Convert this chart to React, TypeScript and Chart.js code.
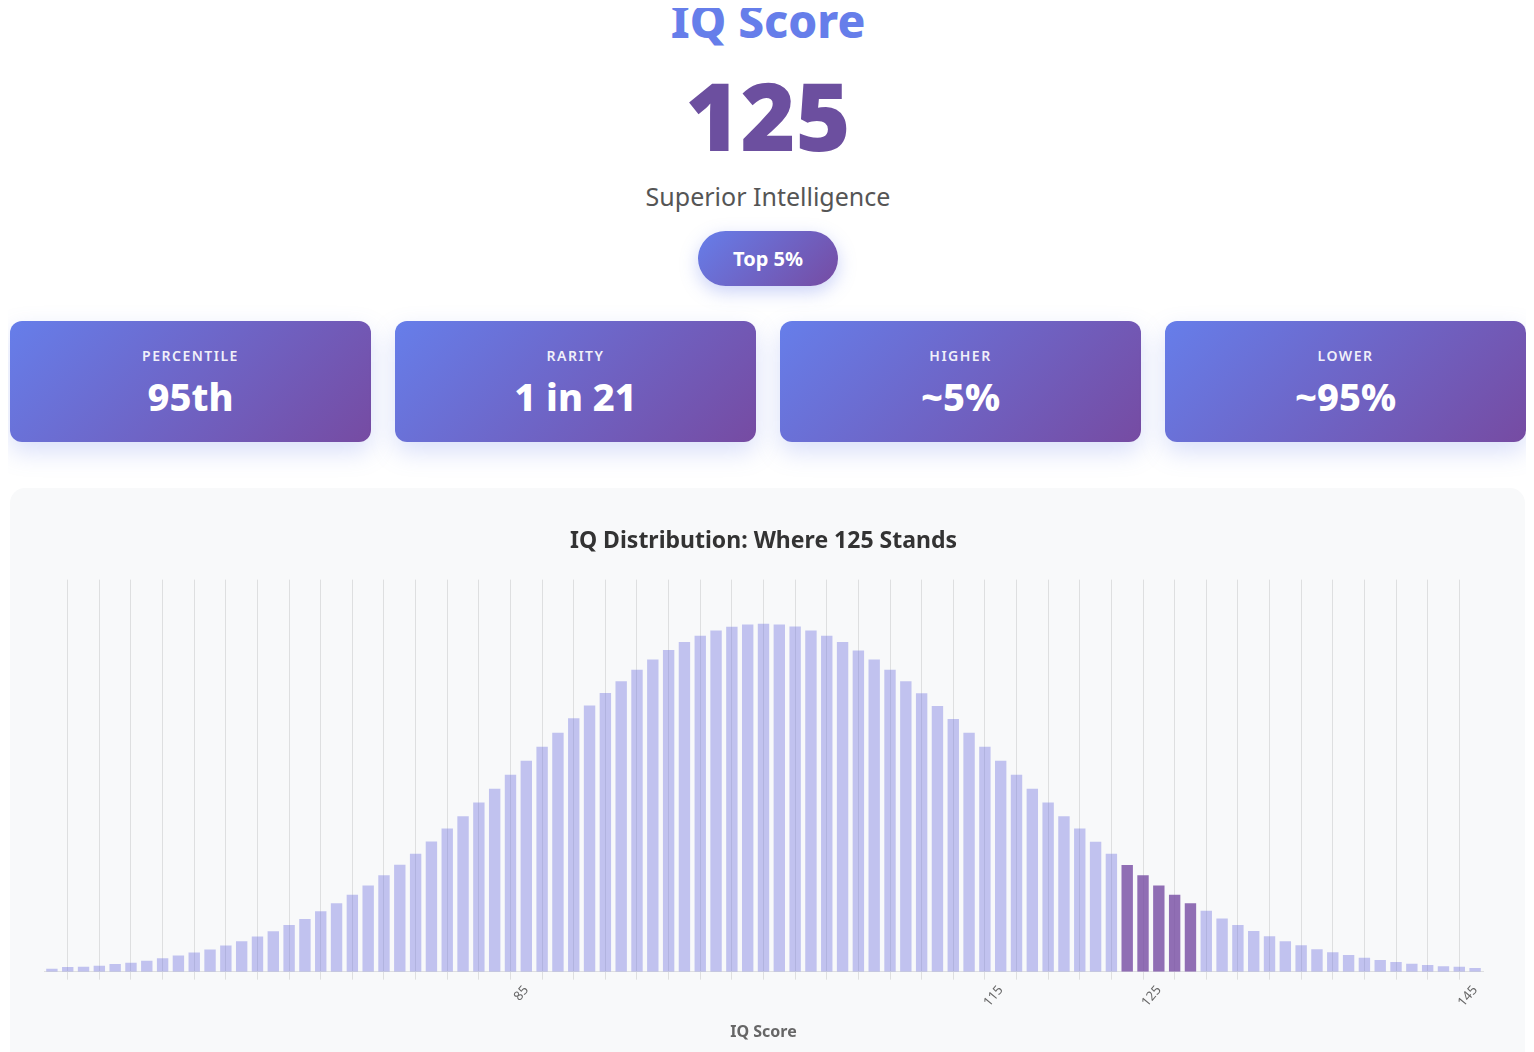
import React, { useEffect, useRef } from "react";
import { Chart, registerables } from "chart.js";

Chart.register(...registerables);

const FONT = '"Segoe UI", "Noto Sans", "Open Sans", sans-serif';

const IQ_SCORES: number[] = [
  55, 56, 57, 58, 59, 60, 61, 62, 63, 64,
  65, 66, 67, 68, 69, 70, 71, 72, 73, 74,
  75, 76, 77, 78, 79, 80, 81, 82, 83, 84,
  85, 86, 87, 88, 89, 90, 91, 92, 93, 94,
  95, 96, 97, 98, 99, 100, 101, 102, 103, 104,
  105, 106, 107, 108, 109, 110, 111, 112, 113, 114,
  115, 116, 117, 118, 119, 120, 121, 122, 123, 124,
  125, 126, 127, 128, 129, 130, 131, 132, 133, 134,
  135, 136, 137, 138, 139, 140, 141, 142, 143, 144,
  145,
];

// population density (% per IQ point)
const DENSITY: number[] = [
  0.023, 0.036, 0.038, 0.046, 0.059, 0.069, 0.084, 0.102, 0.123, 0.146,
  0.169, 0.200, 0.232, 0.269, 0.309, 0.358, 0.404, 0.463, 0.524, 0.589,
  0.660, 0.737, 0.819, 0.903, 0.997, 1.095, 1.189, 1.294, 1.399, 1.506,
  1.614, 1.721, 1.829, 1.939, 2.036, 2.133, 2.223, 2.310, 2.389, 2.461,
  2.522, 2.570, 2.611, 2.640, 2.657, 2.663, 2.657, 2.642, 2.611, 2.570,
  2.522, 2.458, 2.389, 2.310, 2.223, 2.131, 2.033, 1.934, 1.829, 1.721,
  1.614, 1.506, 1.399, 1.294, 1.189, 1.095, 0.995, 0.903, 0.816, 0.737,
  0.660, 0.589, 0.524, 0.466, 0.407, 0.358, 0.312, 0.271, 0.233, 0.202,
  0.171, 0.148, 0.128, 0.107, 0.090, 0.074, 0.061, 0.051, 0.041, 0.038,
  0.028,
];

const SHOWN_TICKS: number[] = [85, 115, 125, 145];
const HIGHLIGHT_MIN = 123;
const HIGHLIGHT_MAX = 127;

const USER_SCORE = 125;
const SCORE_LABEL = "Superior Intelligence";
const BADGE = "Top 5%";

const STAT_LABELS: string[] = ["Percentile", "Rarity", "Higher", "Lower"];
const STAT_VALUES: string[] = ["95th", "1 in 21", "~5%", "~95%"];

const GRADIENT = "linear-gradient(135deg, #667eea 0%, #764ba2 100%)";

function DistributionChart() {
  const ref = useRef<HTMLCanvasElement | null>(null);
  useEffect(() => {
    if (!ref.current) return;
    Chart.defaults.font.family = FONT;
    const colors = IQ_SCORES.map((s) =>
      s >= HIGHLIGHT_MIN && s <= HIGHLIGHT_MAX
        ? "rgba(118, 75, 162, 0.8)"
        : "rgba(102, 106, 220, 0.38)"
    );
    const chart = new Chart(ref.current, {
      type: "bar",
      data: {
        labels: IQ_SCORES,
        datasets: [
          {
            label: "Population",
            data: DENSITY,
            backgroundColor: colors,
            borderWidth: 0,
          },
        ],
      },
      options: {
        animation: false,
        responsive: true,
        maintainAspectRatio: false,
        layout: { padding: { left: 4, right: 12, top: 0, bottom: 0 } },
        plugins: {
          legend: { display: false },
          tooltip: { enabled: false },
          title: {
            display: true,
            text: `IQ Distribution: Where ${USER_SCORE} Stands`,
            color: "#333",
            font: { size: 23, weight: "bold", family: FONT },
            padding: { top: 10, bottom: 24 },
          },
        },
        scales: {
          y: { display: false, min: 0, max: 3 },
          x: {
            ticks: {
              color: "#666",
              font: { size: 13 },
              callback: function (value: any) {
                const s = IQ_SCORES[value as number];
                return SHOWN_TICKS.includes(s) ? String(s) : "";
              },
            },
            title: {
              display: true,
              text: "IQ Score",
              color: "#666",
              font: { size: 16, weight: "bold", family: FONT },
              padding: { top: 10, bottom: 4 },
            },
          },
        },
      },
    });
    return () => chart.destroy();
  }, []);
  return (
    <div style={{ position: "relative", height: 528, width: "100%" }}>
      <canvas ref={ref} />
    </div>
  );
}

export default function App() {
  return (
    <div style={{ fontFamily: FONT, paddingLeft: 2, textAlign: "center" }}>
      <div
        style={{
          marginTop: -11,
          fontSize: 46,
          lineHeight: "46px",
          height: 46,
          fontWeight: 800,
          color: "#667eea",
        }}
      >
        IQ Score
      </div>
      <div
        style={{
          marginTop: 25,
          fontSize: 94,
          lineHeight: "94px",
          height: 94,
          fontWeight: 900,
          color: "#6c4f9f",
        }}
      >
        {USER_SCORE}
      </div>
      <div
        style={{
          marginTop: 22,
          fontSize: 25,
          lineHeight: "25px",
          height: 25,
          color: "#555",
        }}
      >
        {SCORE_LABEL}
      </div>
      <div
        style={{
          marginTop: 22,
          display: "inline-flex",
          alignItems: "center",
          justifyContent: "center",
          width: 140,
          height: 55,
          borderRadius: 28,
          background: GRADIENT,
          color: "#fff",
          fontWeight: 700,
          fontSize: 20,
          boxShadow: "0 6px 18px rgba(102, 126, 234, 0.35)",
        }}
      >
        {BADGE}
      </div>
      <div
        style={{
          marginTop: 35,
          display: "grid",
          gridTemplateColumns: "repeat(4, 1fr)",
          gap: 24,
        }}
      >
        {STAT_LABELS.map((label, i) => (
          <div
            key={label}
            style={{
              height: 121,
              boxSizing: "border-box",
              paddingTop: 28,
              borderRadius: 12,
              background: GRADIENT,
              color: "#fff",
              boxShadow: "0 10px 25px rgba(102, 126, 234, 0.25)",
            }}
          >
            <div
              style={{
                fontSize: 14,
                lineHeight: "14px",
                height: 14,
                fontWeight: 600,
                letterSpacing: 1.5,
                textTransform: "uppercase",
                opacity: 0.9,
              }}
            >
              {label}
            </div>
            <div
              style={{
                marginTop: 14,
                fontSize: 38,
                lineHeight: "38px",
                height: 38,
                fontWeight: 800,
              }}
            >
              {STAT_VALUES[i]}
            </div>
          </div>
        ))}
      </div>
      <div
        style={{
          marginTop: 46,
          background: "#f8f9fa",
          borderRadius: 15,
          padding: 30,
          marginRight: 1,
        }}
      >
        <DistributionChart />
      </div>
    </div>
  );
}
